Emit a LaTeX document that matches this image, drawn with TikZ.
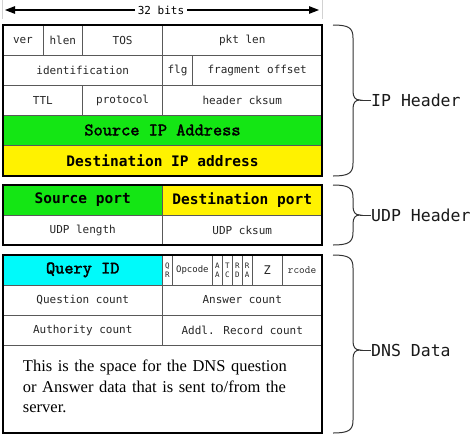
\documentclass[tikz,border=0pt]{standalone}
\usepackage{fontspec}
\setmainfont{Liberation Serif}
\newfontfamily\consfont{DejaVu Sans Mono}
\newfontfamily\courfont{lmmono10-regular.otf}[FakeBold=2]
\usetikzlibrary{arrows.meta}

\definecolor{ipgreen}{RGB}{20,230,20}
\definecolor{qcyan}{RGB}{0,250,250}

% one field: name, first bit, bits, top, height, options, text
\newcommand\fld[7]{\node[cell,#6,minimum width={#3*9.96875pt},minimum height={#5*1pt}] (#1) at ({3+(#2+#3/2)*9.96875},{#4+#5/2}) {#7};}
% brace on the right: name, top, tip, bottom, text
\newcommand\grp[5]{%
  \draw[brace] (333,#2) .. controls (349,#2) and (353,{#2+3}) .. (353,{#2+13}) -- (353,{#3-9})
    .. controls (353,{#3-3}) and (355,#3) .. (360,#3) .. controls (355,#3) and (353,{#3+3}) .. (353,{#3+9})
    -- (353,{#4-13}) .. controls (353,{#4-3}) and (349,#4) .. (333,#4);
  \coordinate (#1tip) at (360,#3);
  \node[lbl] (#1) at (371,#3) {#5};
  \draw[brace] (#1tip) -- (#1.west);}

\begin{document}
\begin{tikzpicture}[x=1pt,y=-1pt,
	cell/.style={draw=gray!70!black,line width=0.7pt,inner sep=0pt,outer sep=0pt,text=black!85,font=\consfont\fontsize{11}{13}\selectfont},
	big/.style={text=black,font=\consfont\bfseries\fontsize{14.5}{16}\selectfont},
	cour/.style={text=black,font=\courfont\fontsize{17.5}{19}\selectfont},
	tiny/.style={align=center,font=\consfont\fontsize{7.5}{9}\selectfont},
	box/.style={draw=black,line width=1.8pt},
	brace/.style={draw=black!80,line width=1pt},
	lbl/.style={anchor=west,inner sep=0pt,text=black!90,font=\consfont\fontsize{16.5}{18}\selectfont},
	dim/.style={line width=1.2pt,-{Triangle[length=10pt,width=7.5pt]}}]
	\useasboundingbox (0,0) rectangle (474,437);
	
	% width arrow
	\draw[gray!35,line width=1pt] (2,0) -- (2,19);
	\draw[gray!35,line width=1pt] (322.5,0) -- (322.5,19);
	\node[inner xsep=3pt,inner ysep=0pt,font=\consfont\fontsize{11}{13}\selectfont] (bits) at (161,10) {32 bits};
	\coordinate (wl) at (5,10);
	\coordinate (wr) at (319,10);
	\draw[dim] (bits.west) -- (wl);
	\draw[dim] (bits.east) -- (wr);
	
	% IP header
	\fld{ver}{0}{4}{25}{30}{}{ver}
	\fld{hlen}{4}{4}{25}{30}{}{hlen}
	\fld{tos}{8}{8}{25}{30}{}{TOS}
	\fld{pktlen}{16}{16}{25}{30}{}{pkt len}
	\fld{ident}{0}{16}{55}{30}{}{identification}
	\fld{flg}{16}{3}{55}{30}{}{flg}
	\fld{fragoff}{19}{13}{55}{30}{}{fragment offset}
	\fld{ttl}{0}{8}{85}{30}{}{TTL}
	\fld{proto}{8}{8}{85}{30}{}{protocol}
	\fld{hcksum}{16}{16}{85}{30}{}{header cksum}
	\fld{srcip}{0}{32}{115}{30}{fill=ipgreen,cour}{Source IP Address}
	\fld{dstip}{0}{32}{145}{31}{fill=yellow,big}{Destination IP address}
	\draw[box] (ver.north west) rectangle (dstip.south east);
	
	% UDP header
	\fld{srcport}{0}{16}{185}{30}{fill=ipgreen,big}{Source port}
	\fld{dstport}{16}{16}{185}{30}{fill=yellow,big}{Destination port}
	\fld{udplen}{0}{16}{215}{30}{}{UDP length}
	\fld{udpck}{16}{16}{215}{30}{}{UDP cksum}
	\draw[box] (srcport.north west) rectangle (udpck.south east);
	
	% DNS data
	\fld{qid}{0}{16}{255}{30}{fill=qcyan,cour}{Query ID\hspace{31pt}}
	\fld{qr}{16}{1}{255}{30}{tiny}{Q\\R}
	\fld{opcode}{17}{4}{255}{30}{font=\consfont\fontsize{9}{10}\selectfont}{Opcode}
	\fld{aa}{21}{1}{255}{30}{tiny}{A\\A}
	\fld{tc}{22}{1}{255}{30}{tiny}{T\\C}
	\fld{rd}{23}{1}{255}{30}{tiny}{R\\D}
	\fld{ra}{24}{1}{255}{30}{tiny}{R\\A}
	\fld{z}{25}{3}{255}{30}{font=\consfont\fontsize{12}{13}\selectfont}{Z}
	\fld{rcode}{28}{4}{255}{30}{font=\ttfamily\fontsize{11}{12}\selectfont}{rcode}
	\fld{qcount}{0}{16}{285}{30}{}{Question count}
	\fld{acount}{16}{16}{285}{30}{}{Answer count}
	\fld{authcount}{0}{16}{315}{30}{}{Authority count}
	\fld{addlcount}{16}{16}{315}{30}{}{Addl. Record count}
	\fld{dnsdata}{0}{32}{345}{83}{draw=none,inner xsep=20pt,text width=279pt,align=left,text=black,font=\rmfamily\fontsize{16.5}{20.5}\selectfont}{This is the space for the DNS question\\or Answer data that is sent to/from the\\server.}
	\coordinate (dnsend) at ({3+32*9.96875},433);
	\draw[box] (qid.north west) rectangle (dnsend);
	
	% braces
	\grp{iphdr}{25}{100}{176}{IP Header}
	\grp{udphdr}{185}{215}{245}{UDP Header}
	\grp{dnshdr}{255}{350}{433}{DNS Data}
\end{tikzpicture}
\end{document}
